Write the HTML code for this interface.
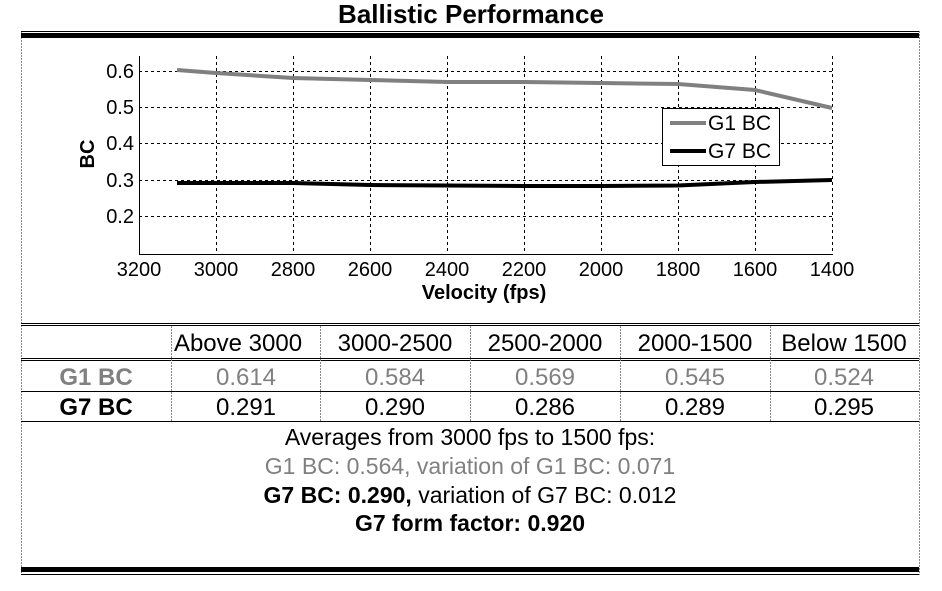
<!DOCTYPE html>
<html><head><style>
body{margin:0;background:#fff;}
svg{display:block;font-family:"Liberation Sans",Arial,sans-serif;}
</style></head><body>
<svg width="942" height="591" viewBox="0 0 942 591" xmlns="http://www.w3.org/2000/svg">
<rect width="942" height="591" fill="#fff"/>
<text x="471" y="23" text-anchor="middle" font-size="26" font-weight="bold">Ballistic Performance</text>
<line x1="21.5" y1="31" x2="21.5" y2="575" stroke="#888" stroke-dasharray="2,1" stroke-width="1"/>
<line x1="919.5" y1="31" x2="919.5" y2="575" stroke="#888" stroke-dasharray="2,1" stroke-width="1"/>
<line x1="21" y1="31.5" x2="919" y2="31.5" stroke="#000" stroke-width="1"/>
<rect x="21" y="33" width="898" height="5" fill="#000"/>
<rect x="21" y="567" width="898" height="5" fill="#000"/>
<line x1="21" y1="574.5" x2="919" y2="574.5" stroke="#000" stroke-width="1"/>
<g stroke="#000" stroke-width="1" stroke-dasharray="3,3">
<line x1="216.5" y1="56" x2="216.5" y2="254"/>
<line x1="293.5" y1="56" x2="293.5" y2="254"/>
<line x1="370.5" y1="56" x2="370.5" y2="254"/>
<line x1="447.5" y1="56" x2="447.5" y2="254"/>
<line x1="524.5" y1="56" x2="524.5" y2="254"/>
<line x1="601.5" y1="56" x2="601.5" y2="254"/>
<line x1="678.5" y1="56" x2="678.5" y2="254"/>
<line x1="755.5" y1="56" x2="755.5" y2="254"/>
<line x1="832.5" y1="56" x2="832.5" y2="254"/>
<line x1="139" y1="71.5" x2="833" y2="71.5"/>
<line x1="139" y1="107.5" x2="833" y2="107.5"/>
<line x1="139" y1="143.5" x2="833" y2="143.5"/>
<line x1="139" y1="180.5" x2="833" y2="180.5"/>
<line x1="139" y1="216.5" x2="833" y2="216.5"/>
</g>
<line x1="139.5" y1="56" x2="139.5" y2="254" stroke="#000"/>
<line x1="139" y1="254.5" x2="833" y2="254.5" stroke="#000"/>
<g font-size="20" text-anchor="end">
<text x="134" y="78">0.6</text><text x="134" y="114">0.5</text><text x="134" y="150">0.4</text><text x="134" y="187">0.3</text><text x="134" y="223">0.2</text>
</g>
<g font-size="20" text-anchor="middle">
<text x="139" y="276">3200</text><text x="216" y="276">3000</text><text x="293" y="276">2800</text><text x="370" y="276">2600</text><text x="447" y="276">2400</text><text x="524" y="276">2200</text><text x="601" y="276">2000</text><text x="678" y="276">1800</text><text x="755" y="276">1600</text><text x="832" y="276">1400</text>
</g>
<text x="484" y="299" text-anchor="middle" font-size="20" font-weight="bold">Velocity (fps)</text>
<text transform="translate(94,154) rotate(-90)" text-anchor="middle" font-size="20" font-weight="bold">BC</text>
<polyline points="177,70 216,73 293,78 370,80 447,82 524,82 601,83 678,84 755,90 832,108" fill="none" stroke="#808080" stroke-width="4"/>
<polyline points="177,183 293,183 370,185 447,185.5 524,186 601,186 678,185.5 755,182 832,180" fill="none" stroke="#000" stroke-width="4"/>
<rect x="662.5" y="108.5" width="117" height="57" fill="#fff" stroke="#000"/>
<line x1="670" y1="123" x2="706" y2="123" stroke="#808080" stroke-width="4"/>
<line x1="670" y1="151" x2="706" y2="151" stroke="#000" stroke-width="4"/>
<text x="708" y="130" font-size="21">G1 BC</text>
<text x="708" y="158" font-size="21">G7 BC</text>
<line x1="21" y1="323.5" x2="919" y2="323.5" stroke="#000"/>
<line x1="21" y1="325.5" x2="919" y2="325.5" stroke="#000"/>
<line x1="21" y1="358.5" x2="919" y2="358.5" stroke="#000"/>
<line x1="21" y1="360.5" x2="919" y2="360.5" stroke="#000"/>
<line x1="21" y1="391.5" x2="919" y2="391.5" stroke="#000"/>
<line x1="21" y1="421.5" x2="919" y2="421.5" stroke="#000"/>
<g stroke="#888" stroke-dasharray="2,1">
<line x1="171.5" y1="326" x2="171.5" y2="421"/>
<line x1="320.5" y1="326" x2="320.5" y2="421"/>
<line x1="470.5" y1="326" x2="470.5" y2="421"/>
<line x1="620.5" y1="326" x2="620.5" y2="421"/>
<line x1="770.5" y1="326" x2="770.5" y2="421"/>
</g>
<g font-size="24" text-anchor="middle">
<text x="238" y="351">Above 3000</text><text x="395" y="351">3000-2500</text><text x="545" y="351">2500-2000</text><text x="695" y="351">2000-1500</text><text x="844" y="351">Below 1500</text>
<g fill="#808080"><text x="246" y="385">0.614</text><text x="395" y="385">0.584</text><text x="545" y="385">0.569</text><text x="695" y="385">0.545</text><text x="844" y="385">0.524</text></g>
<text x="246" y="415">0.291</text><text x="395" y="415">0.290</text><text x="545" y="415">0.286</text><text x="695" y="415">0.289</text><text x="844" y="415">0.295</text>
<text x="96" y="385" font-weight="bold" fill="#808080">G1 BC</text>
<text x="96" y="415" font-weight="bold">G7 BC</text>
</g>
<g font-size="23" text-anchor="middle">
<text x="470" y="445">Averages from 3000 fps to 1500 fps:</text>
<text x="470" y="474" fill="#808080">G1 BC: 0.564, variation of G1 BC: 0.071</text>
<text x="470" y="503"><tspan font-weight="bold">G7 BC: 0.290,</tspan> variation of G7 BC: 0.012</text>
<text x="470" y="531" font-weight="bold">G7 form factor: 0.920</text>
</g>
</svg>
</body></html>
